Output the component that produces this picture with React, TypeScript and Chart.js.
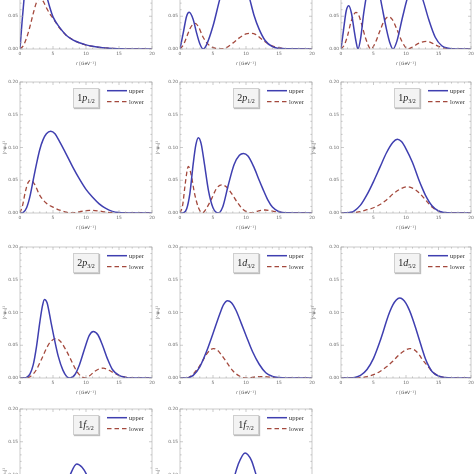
import { useEffect, useRef } from 'react';
import { Chart, registerables } from 'chart.js';
import type { Plugin } from 'chart.js';

Chart.register(...registerables);

type Pt = [number, number];

// axes: r in GeV^-1, |r psi|^2
const rMin = 0;
const rMax = 20;
const rStep = 5;
const psiMin = 0;
const psiMax = 0.2;
const psiStep = 0.05;
const seriesNames = ['upper', 'lower'];

// n, l, j for each panel (reading order)
const stateLabels = [
  ['1', 's', '1/2'], ['2', 's', '1/2'], ['3', 's', '1/2'],
  ['1', 'p', '1/2'], ['2', 'p', '1/2'], ['1', 'p', '3/2'],
  ['2', 'p', '3/2'], ['1', 'd', '3/2'], ['1', 'd', '5/2'],
  ['1', 'f', '5/2'], ['1', 'f', '7/2'],
];

// 1s1/2
const upper1s: Pt[] = [[0, 0], [0.3, 0.04], [0.6, 0.075], [1, 0.115], [1.5, 0.152], [2, 0.168], [2.5, 0.162], [3, 0.14], [3.5, 0.11], [4, 0.083], [4.5, 0.064], [5, 0.049], [6, 0.033], [7, 0.021], [8, 0.014], [9, 0.0095], [10, 0.0063], [11, 0.0041], [12, 0.0026], [13, 0.0015], [14, 0.0008], [15, 0.0004], [16, 0.0001], [20, 0]];
const lower1s: Pt[] = [[0, 0], [0.5, 0.005], [1, 0.017], [1.5, 0.034], [2, 0.054], [2.5, 0.071], [3, 0.078], [3.5, 0.073], [4, 0.063], [4.5, 0.054], [5, 0.047], [6, 0.032], [7, 0.021], [8, 0.014], [9, 0.0093], [10, 0.0061], [11, 0.004], [12, 0.0025], [13, 0.0015], [14, 0.0008], [15, 0.0004], [16, 0.0001], [20, 0]];

// 2s1/2
const upper2s: Pt[] = [[0, 0], [0.5, 0.025], [1, 0.05], [1.4, 0.056], [2, 0.045], [2.5, 0.025], [3, 0.008], [3.5, 0], [4, 0.006], [5, 0.035], [6, 0.075], [7, 0.11], [8, 0.128], [9, 0.122], [10, 0.098], [10.6, 0.075], [11.2, 0.052], [12, 0.03], [12.9, 0.013], [14, 0.0035], [15, 0.001], [16, 0.0002], [20, 0]];
const lower2s: Pt[] = [[0, 0], [0.5, 0.006], [1, 0.018], [1.5, 0.031], [2, 0.038], [2.3, 0.039], [2.8, 0.034], [3.5, 0.018], [4.5, 0.005], [5.5, 0.001], [6.3, 0], [7, 0.002], [8, 0.009], [9, 0.017], [10, 0.023], [10.9, 0.024], [11.5, 0.022], [12.5, 0.014], [13.5, 0.007], [14.5, 0.003], [15.5, 0.001], [16.5, 0.0002], [20, 0]];

// 3s1/2
const upper3s: Pt[] = [[0, 0], [0.4, 0.03], [0.8, 0.058], [1.2, 0.066], [1.6, 0.055], [2, 0.03], [2.3, 0.012], [2.6, 0], [3, 0.015], [3.5, 0.055], [4, 0.085], [4.6, 0.1], [5.2, 0.103], [5.8, 0.09], [6.3, 0.065], [7, 0.03], [7.5, 0.01], [8, 0], [8.6, 0.012], [9.5, 0.05], [10.3, 0.08], [11.2, 0.095], [12, 0.09], [12.6, 0.075], [13.5, 0.045], [14.5, 0.018], [15.5, 0.005], [16.5, 0.001], [17.5, 0], [20, 0]];
const lower3s: Pt[] = [[0, 0], [0.5, 0.006], [1, 0.02], [1.5, 0.04], [2, 0.053], [2.3, 0.056], [2.7, 0.052], [3.2, 0.037], [3.8, 0.016], [4.6, 0], [5.3, 0.01], [6, 0.028], [6.7, 0.044], [7.3, 0.049], [7.9, 0.045], [8.6, 0.03], [9.4, 0.011], [10.3, 0], [11, 0.003], [12, 0.009], [13.1, 0.0117], [14, 0.009], [15, 0.004], [16, 0.0012], [17, 0.0002], [20, 0]];

// 1p1/2
const upper1p12: Pt[] = [[0, 0], [0.5, 0.001], [1, 0.008], [1.5, 0.025], [2, 0.05], [2.5, 0.075], [3, 0.097], [3.5, 0.112], [4, 0.121], [4.65, 0.125], [5.3, 0.121], [6, 0.109], [7, 0.09], [8, 0.07], [9, 0.052], [10, 0.036], [11, 0.024], [12, 0.014], [13, 0.007], [14, 0.0025], [15, 0.0006], [16, 0.0001], [20, 0]];
const lower1p12: Pt[] = [[0, 0], [0.4, 0.012], [0.8, 0.032], [1.2, 0.046], [1.67, 0.05], [2.2, 0.044], [3, 0.027], [4, 0.015], [5, 0.009], [6, 0.0045], [7, 0.0012], [7.8, 0], [8.8, 0.0015], [10, 0.0035], [11, 0.004], [12, 0.003], [13, 0.0015], [14, 0.0005], [15, 0.0001], [20, 0]];

// 2p1/2
const upper2p12: Pt[] = [[0, 0], [0.5, 0.0005], [1, 0.006], [1.5, 0.03], [2, 0.075], [2.4, 0.104], [2.78, 0.115], [3.2, 0.106], [3.7, 0.075], [4.3, 0.035], [5, 0.008], [5.8, 0], [6.5, 0.01], [7.3, 0.042], [8.2, 0.074], [9, 0.088], [9.6, 0.091], [10.3, 0.087], [11.2, 0.07], [12, 0.05], [12.5, 0.038], [13.3, 0.02], [14, 0.009], [15, 0.002], [16, 0.0003], [20, 0]];
const lower2p12: Pt[] = [[0, 0], [0.4, 0.012], [0.8, 0.045], [1.26, 0.071], [1.7, 0.058], [2.2, 0.03], [2.8, 0.008], [3.4, 0], [4, 0.007], [4.8, 0.022], [5.5, 0.037], [6.3, 0.043], [7, 0.04], [7.8, 0.03], [8.7, 0.016], [9.6, 0.005], [10.9, 0], [11.8, 0.003], [12.9, 0.0046], [14, 0.003], [15, 0.0012], [16, 0.0003], [17, 0], [20, 0]];

// 1p3/2
const upper1p32: Pt[] = [[0, 0], [1, 0.0003], [1.5, 0.001], [2, 0.003], [3, 0.012], [4, 0.028], [5, 0.048], [6, 0.07], [7, 0.092], [8, 0.108], [8.67, 0.1125], [9.3, 0.109], [10, 0.098], [11, 0.077], [12, 0.05], [12.5, 0.038], [13, 0.027], [14, 0.011], [15, 0.003], [16, 0.0006], [17, 0], [20, 0]];
const lower1p32: Pt[] = [[0, 0], [1.5, 0], [2, 0.0005], [3, 0.002], [4, 0.005], [5, 0.008], [6, 0.013], [7, 0.02], [8, 0.029], [9, 0.036], [10.1, 0.04], [11, 0.038], [12, 0.031], [13, 0.02], [14, 0.009], [15, 0.003], [16, 0.0006], [17, 0], [20, 0]];

// 2p3/2
const upper2p32: Pt[] = [[0, 0], [0.5, 0], [1, 0.001], [1.5, 0.006], [2, 0.02], [2.5, 0.048], [3, 0.085], [3.4, 0.11], [3.7, 0.12], [4.1, 0.115], [4.7, 0.085], [5.2, 0.06], [5.8, 0.033], [6.5, 0.012], [7.1, 0.002], [7.6, 0], [8.3, 0.005], [9, 0.02], [9.8, 0.045], [10.5, 0.065], [11.1, 0.071], [11.8, 0.066], [12.5, 0.05], [13.3, 0.028], [14, 0.013], [15, 0.004], [16, 0.0008], [17, 0], [20, 0]];
const lower2p32: Pt[] = [[0, 0], [1, 0], [1.5, 0.002], [2, 0.006], [2.5, 0.013], [3, 0.023], [3.5, 0.034], [4, 0.045], [4.6, 0.055], [5.45, 0.06], [6.2, 0.055], [7, 0.042], [7.8, 0.026], [8.5, 0.012], [9.2, 0.003], [9.85, 0], [10.5, 0.003], [11.3, 0.01], [12, 0.014], [12.6, 0.015], [13.3, 0.013], [14, 0.009], [15, 0.004], [16, 0.0012], [17, 0.0002], [18, 0], [20, 0]];

// 1d3/2
const upper1d32: Pt[] = [[0, 0], [1, 0], [1.3, 0.0005], [2, 0.004], [3, 0.017], [4, 0.04], [5, 0.068], [6, 0.097], [6.6, 0.112], [7.2, 0.118], [7.8, 0.115], [8.5, 0.103], [9.3, 0.083], [10, 0.065], [11, 0.04], [12, 0.021], [13, 0.008], [14, 0.0025], [15, 0.0006], [16, 0], [20, 0]];
const lower1d32: Pt[] = [[0, 0], [1, 0], [1.5, 0.002], [2, 0.006], [3, 0.019], [4, 0.036], [4.5, 0.042], [5.05, 0.045], [5.6, 0.043], [6.3, 0.035], [7, 0.025], [8, 0.011], [9, 0.003], [10, 0], [11, 0.001], [12, 0.0022], [13, 0.002], [14, 0.0008], [15, 0.0002], [16, 0], [20, 0]];

// 1d5/2
const upper1d52: Pt[] = [[0, 0], [1.5, 0], [2, 0.0006], [3, 0.004], [4, 0.013], [5, 0.03], [6, 0.056], [6.5, 0.071], [7, 0.087], [7.5, 0.101], [8, 0.112], [8.5, 0.119], [9, 0.122], [9.5, 0.12], [10, 0.114], [10.5, 0.104], [11, 0.091], [11.5, 0.076], [12, 0.06], [12.5, 0.044], [13, 0.029], [13.5, 0.018], [14, 0.01], [15, 0.003], [16, 0.0007], [17, 0], [20, 0]];
const lower1d52: Pt[] = [[0, 0], [2.5, 0], [3, 0.0005], [4, 0.002], [5, 0.005], [6, 0.01], [7, 0.017], [8, 0.026], [9, 0.036], [10, 0.043], [10.6, 0.045], [11.3, 0.043], [12, 0.036], [12.6, 0.027], [13.2, 0.02], [14, 0.01], [15, 0.003], [16, 0.0007], [17, 0], [20, 0]];

// 1f5/2
const upper1f52: Pt[] = [[0, 0], [1.5, 0], [2, 0.0003], [3, 0.002], [4, 0.008], [5, 0.022], [6, 0.047], [7, 0.08], [7.8, 0.104], [8.6, 0.116], [9.4, 0.111], [10.2, 0.098], [11, 0.077], [12, 0.048], [13, 0.024], [14, 0.009], [15, 0.0025], [16, 0.0005], [17, 0], [20, 0]];
const lower1f52: Pt[] = [[0, 0], [2, 0], [3, 0.001], [4, 0.003], [5, 0.008], [6, 0.016], [7, 0.026], [8, 0.036], [9, 0.042], [10, 0.043], [11, 0.039], [12, 0.029], [13, 0.017], [14, 0.007], [15, 0.002], [16, 0.0004], [17, 0], [20, 0]];

// 1f7/2
const upper1f72: Pt[] = [[0, 0], [2, 0], [3, 0.0005], [4, 0.003], [5, 0.01], [6, 0.026], [7, 0.053], [8, 0.088], [8.8, 0.115], [9.85, 0.133], [10.8, 0.122], [11.6, 0.097], [12.5, 0.065], [13.5, 0.032], [14.5, 0.012], [15.5, 0.0035], [16.5, 0.0008], [17.5, 0], [20, 0]];
const lower1f72: Pt[] = [[0, 0], [3, 0], [4, 0.001], [5, 0.003], [6, 0.008], [7, 0.015], [8, 0.024], [9, 0.033], [10, 0.039], [11, 0.04], [12, 0.035], [13, 0.024], [14, 0.012], [15, 0.004], [16, 0.001], [17, 0], [20, 0]];

const upperSeries = [upper1s, upper2s, upper3s, upper1p12, upper2p12, upper1p32, upper2p32, upper1d32, upper1d52, upper1f52, upper1f72];
const lowerSeries = [lower1s, lower2s, lower3s, lower1p12, lower2p12, lower1p32, lower2p32, lower1d32, lower1d52, lower1f52, lower1f72];

// panel geometry (plot area in page pixels)
const colLeft = [20, 180, 341];
const colWidth = [132, 132, 130];
const rowTop = [-82, 82, 247, 409];
const plotHeight = 131;
const yTitleGap = [15, 22.5, 27];

const AXIS_W = 32;
const AXIS_H = 22;
const PAD = 8;
const UPPER_COLOR = '#3f3fb0';
const LOWER_COLOR = '#a4493d';
const tickFont = { family: '"DejaVu Sans"', size: 4.4 };

// Mathematica-like frame with inward ticks on all four sides
const framePlugin: Plugin<'line'> = {
  id: 'frame',
  afterDatasetsDraw(chart) {
    const { ctx, chartArea: a, scales } = chart;
    const line = (x1: number, y1: number, x2: number, y2: number) => {
      ctx.beginPath();
      ctx.moveTo(x1, y1);
      ctx.lineTo(x2, y2);
      ctx.stroke();
    };
    ctx.save();
    ctx.strokeStyle = '#a8a8a8';
    ctx.lineWidth = 0.6;
    ctx.strokeRect(a.left, a.top, a.width, a.height);
    for (let k = 0; k <= (rMax - rMin); k++) {
      const px = scales.x.getPixelForValue(rMin + k);
      const len = k % rStep === 0 ? 3 : 1.6;
      line(px, a.bottom, px, a.bottom - len);
      line(px, a.top, px, a.top + len);
    }
    const minors = Math.round((psiMax - psiMin) / 0.01);
    for (let k = 0; k <= minors; k++) {
      const py = scales.y.getPixelForValue(psiMin + k * 0.01);
      const len = k % 5 === 0 ? 3 : 1.6;
      line(a.left, py, a.left + len, py);
      line(a.right, py, a.right - len, py);
    }
    ctx.restore();
  },
};

// legend drawn inside the plot, top right
const insetLegend: Plugin<'line'> = {
  id: 'insetLegend',
  afterDraw(chart) {
    const { ctx, chartArea: a } = chart;
    chart.data.datasets.forEach((ds, i) => {
      const yy = a.top + 8.7 + i * 11;
      ctx.save();
      ctx.strokeStyle = ds.borderColor as string;
      ctx.lineWidth = (ds.borderWidth as number) || 1;
      ctx.setLineDash((ds.borderDash as number[]) || []);
      ctx.beginPath();
      ctx.moveTo(a.left + 87, yy);
      ctx.lineTo(a.left + 107, yy);
      ctx.stroke();
      ctx.setLineDash([]);
      ctx.fillStyle = '#333';
      ctx.font = '6.5px "Liberation Serif"';
      ctx.textBaseline = 'middle';
      ctx.fillText(ds.label || '', a.left + 109, yy + 0.3);
      ctx.restore();
    });
  },
};

function Panel({ index }: { index: number }) {
  const canvasRef = useRef<HTMLCanvasElement>(null);
  const col = index % 3;
  const row = Math.floor(index / 3);
  const w = colWidth[col];
  const cw = w + AXIS_W + PAD;
  const ch = plotHeight + PAD + AXIS_H;
  const left = colLeft[col];
  const top = rowTop[row];
  const [n, l, j] = stateLabels[index];

  useEffect(() => {
    if (!canvasRef.current) return;
    const chart = new Chart(canvasRef.current, {
      type: 'line',
      data: {
        datasets: [
          {
            label: seriesNames[0],
            data: upperSeries[index].map(([x, y]) => ({ x, y })),
            borderColor: UPPER_COLOR,
            borderWidth: 1.5,
            pointRadius: 0,
            cubicInterpolationMode: 'monotone',
            fill: false,
          },
          {
            label: seriesNames[1],
            data: lowerSeries[index].map(([x, y]) => ({ x, y })),
            borderColor: LOWER_COLOR,
            borderWidth: 1.3,
            borderDash: [4.5, 3],
            pointRadius: 0,
            cubicInterpolationMode: 'monotone',
            fill: false,
          },
        ],
      },
      options: {
        responsive: false,
        animation: false,
        layout: { padding: { top: PAD, right: PAD, left: 0, bottom: 0 } },
        plugins: { legend: { display: false }, tooltip: { enabled: false } },
        scales: {
          x: {
            type: 'linear',
            min: rMin,
            max: rMax,
            afterFit: (s) => { s.height = AXIS_H; },
            ticks: { stepSize: rStep, font: tickFont, color: '#666', padding: 2, maxRotation: 0, autoSkip: false },
            grid: { display: false, drawTicks: false },
            border: { display: false },
            title: { display: true, text: 'r [GeV⁻¹]', font: tickFont, color: '#555', padding: { top: 0, bottom: 4.5 } },
          },
          y: {
            type: 'linear',
            min: psiMin,
            max: psiMax,
            afterFit: (s) => { s.width = AXIS_W; },
            ticks: { stepSize: psiStep, font: tickFont, color: '#666', padding: 2, callback: (v) => Number(v).toFixed(2) },
            grid: { display: false, drawTicks: false },
            border: { display: false },
            title: { display: true, text: '|r·ψₙⱼ|²', font: tickFont, color: '#555', padding: { top: AXIS_W - yTitleGap[col] - 2.7, bottom: 0 } },
          },
        },
      },
      plugins: [framePlugin, insetLegend],
    });
    return () => chart.destroy();
  }, [index]);

  return (
    <>
      <canvas
        ref={canvasRef}
        width={cw}
        height={ch}
        style={{ position: 'absolute', left: left - AXIS_W, top: top - PAD, width: cw, height: ch }}
      />
      <div
        style={{
          position: 'absolute',
          left: left + 53,
          top: top + 6,
          width: 24,
          height: 18,
          background: '#f3f3f3',
          border: '1px solid #cfcfcf',
          boxShadow: '1px 1px 1px #bdbdbd',
          display: 'flex',
          alignItems: 'center',
          justifyContent: 'center',
          fontFamily: '"Liberation Serif", serif',
          fontSize: 10,
          color: '#222',
          lineHeight: 1,
        }}
      >
        <span>
          {n}<i>{l}</i><sub style={{ fontSize: 6, verticalAlign: -2 }}>{j}</sub>
        </span>
      </div>
    </>
  );
}

export default function App() {
  return (
    <div style={{ position: 'fixed', left: 0, top: 0, width: 474, height: 474, overflow: 'hidden', background: '#fff' }}>
      {stateLabels.map((_, i) => (
        <Panel key={i} index={i} />
      ))}
    </div>
  );
}
